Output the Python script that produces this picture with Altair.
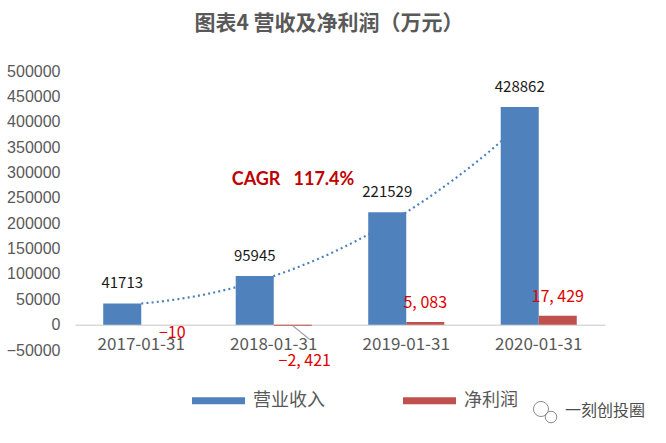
import altair as alt
import pandas as pd

# ---- data ----
dates = ["2017-01-31", "2018-01-31", "2019-01-31", "2020-01-31"]
revenue = [41713, 95945, 221529, 428862]
net_profit = [-10, -2421, 5083, 17429]
series_names = ["营业收入", "净利润"]
series_colors = ["#4F81BD", "#C0504D"]
y_ticks = [-50000, 0, 50000, 100000, 150000, 200000, 250000, 300000, 350000, 400000, 450000, 500000]
title_text = "图表4 营收及净利润（万元）"
cagr_text = "CAGR\u00a0\u00a0\u00a0117.4%"
watermark_text = "一刻创投圈"

rows = []
for i, d in enumerate(dates):
    rows.append({"date": d, "idx": i, "series": series_names[0], "value": revenue[i]})
for i, d in enumerate(dates):
    rows.append({"date": d, "idx": i, "series": series_names[1], "value": net_profit[i]})
df = pd.DataFrame(rows)

W, H = 530, 279
GRAY = "#595959"
RED = "#E00000"
CJK = "Noto Sans CJK SC"

x_enc = alt.X("date:N", sort=dates, title=None,
              scale=alt.Scale(paddingInner=0.426, paddingOuter=0.213),
              axis=alt.Axis(offset=-H * 50000 / 550000, domainColor="#D9D9D9", domainWidth=1.5,
                            ticks=False, labelAngle=0, labelPadding=12, labelFont=CJK,
                            labelFontSize=17, labelColor=GRAY, labelOverlap=False))
xo_enc = alt.XOffset("series:N", sort=series_names,
                     scale=alt.Scale(domain=series_names, paddingInner=0, paddingOuter=0))
y_axis = alt.Axis(values=y_ticks, format="d", grid=False, domain=False, ticks=False,
                  labelPadding=15, labelFont="Liberation Sans", labelFontSize=16,
                  labelColor=GRAY, labelOverlap=False, labelBound=False, labelFlush=False)
y_enc = alt.Y("value:Q", title=None,
              scale=alt.Scale(domain=[-50000, 500000], nice=False, zero=False),
              axis=y_axis)

base = alt.Chart(df)

bars = base.mark_bar().encode(
    x=x_enc, xOffset=xo_enc, y=y_enc,
    color=alt.Color("series:N", sort=series_names,
                    scale=alt.Scale(domain=series_names, range=series_colors),
                    legend=alt.Legend(title=None, orient="none", direction="horizontal",
                                      legendX=117, legendY=303, padding=0,
                                      symbolType="M-1,-0.13L1,-0.13L1,0.13L-1,0.13Z",
                                      symbolSize=2809, symbolStrokeWidth=0, symbolOpacity=1,
                                      labelFont=CJK, labelFontSize=18, labelColor=GRAY,
                                      labelOffset=8, columnPadding=78)),
)

rev_labels = base.transform_filter(
    alt.datum.series == series_names[0]
).mark_text(baseline="middle", dy=-20, font=CJK, fontSize=15, color="#1A1A1A").encode(
    x=x_enc, xOffset=xo_enc, y=y_enc,
    text=alt.Text("value:Q", format="d"),
)

net = base.transform_filter(alt.datum.series == series_names[1]).transform_calculate(
    label="replace(format(datum.value, ','), ',', ', ')"
)

net_pos = net.transform_filter(alt.datum.value >= 0).mark_text(
    baseline="middle", dy=-19, font=CJK, fontSize=16, color=RED
).encode(x=x_enc, xOffset=xo_enc, y=y_enc, text="label:N")

net_neg_small = net.transform_filter(
    (alt.datum.value < 0) & (alt.datum.value > -1000)
).mark_text(baseline="middle", dx=12, dy=8, font=CJK, fontSize=16, color=RED).encode(
    x=x_enc, xOffset=xo_enc, y=y_enc, text="label:N")

net_neg_big = net.transform_filter(alt.datum.value <= -1000).mark_text(
    baseline="middle", dx=12, dy=35, font=CJK, fontSize=16, color=RED
).encode(x=x_enc, xOffset=xo_enc, y=y_enc, text="label:N")

leader = net.transform_filter(alt.datum.value <= -1000).mark_point(
    shape="M0,0L1,0.8", size=1156, filled=False, stroke="#A6A6A6", strokeWidth=1.3,
    opacity=1, strokeOpacity=1
).encode(x=x_enc, xOffset=xo_enc, y=y_enc)

trend = base.transform_filter(alt.datum.series == series_names[0]).transform_regression(
    "idx", "value", method="poly", order=3, extent=[0, 3]
).mark_line(color="#4F81BD", strokeWidth=2.2, strokeDash=[2, 3.2]).encode(
    x=alt.X("idx:Q", scale=alt.Scale(domain=[-0.5, 3.5], nice=False, zero=False), axis=None),
    y=y_enc,
)

one = alt.Data(values=[{}])
cagr = alt.Chart(one).mark_text(
    font="Lato", fontSize=18, fontWeight="bold", color="#C00000", align="center", baseline="middle"
).encode(x=alt.value(218), y=alt.value(109), text=alt.value(cagr_text))

wm = alt.Chart(one).mark_text(
    font=CJK, fontSize=16, color="#4D4D4D", align="center", baseline="middle"
).encode(x=alt.value(530), y=alt.value(340), text=alt.value(watermark_text))

icon1 = alt.Chart(one).mark_point(shape="circle", size=227, filled=False, stroke="#8C8C8C",
                                  strokeWidth=1, opacity=1).encode(x=alt.value(466), y=alt.value(338))
icon2 = alt.Chart(one).mark_point(shape="circle", size=133, filled=False, stroke="#8C8C8C",
                                  strokeWidth=1, opacity=1).encode(x=alt.value(476), y=alt.value(346))

main = alt.layer(bars, rev_labels, net_pos, net_neg_small, net_neg_big, leader)
chart = alt.layer(main, trend, cagr, wm, icon1, icon2).resolve_scale(x="independent").properties(
    width=W, height=H,
    padding={"left": 75, "top": 71, "right": 61, "bottom": 93},
    autosize=alt.AutoSizeParams(type="none"),
    background="white",
    title=alt.TitleParams(title_text, anchor="middle", dx=-11, offset=29, font=CJK,
                          fontSize=21, fontWeight="bold", color=GRAY),
).configure_view(stroke=None).configure_axisY(labelOverlap=False)

chart.save("out.html", embed_options={"renderer": "svg", "actions": False})
